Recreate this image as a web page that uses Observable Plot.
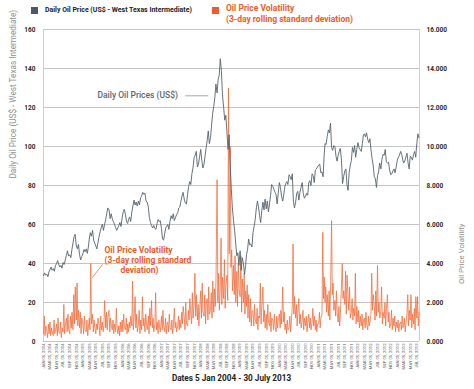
<!DOCTYPE html>
<html><head><meta charset="utf-8">
<script src="https://cdn.jsdelivr.net/npm/d3@7"></script>
<script src="https://cdn.jsdelivr.net/npm/@observablehq/plot@0.6"></script>
<style>
body{margin:0;background:#fff;font-family:Roboto,sans-serif;}
#wrap{position:relative;width:474px;height:389px;overflow:hidden;background:#fff;}
#wrap svg{position:absolute;left:0;top:0;}
.lg{position:absolute;white-space:nowrap;line-height:1;z-index:2;transform-origin:0 0;}
</style></head><body><div id="wrap">
<div class="lg" style="left:31px;top:7px;width:7px;height:7px;background:#4a5963"></div>
<div class="lg" style="left:45px;top:6px;font-size:8px;font-weight:700;color:#222;transform:scaleX(0.87)">Daily Oil Price (US$ - West Texas Intermediate)</div>
<div class="lg" style="left:212px;top:7px;width:7px;height:7px;background:#f15a29"></div>
<div class="lg" style="left:226px;top:4px;font-size:8.5px;font-weight:700;color:#f05a28">Oil Price Volatility</div>
<div class="lg" style="left:226px;top:15px;font-size:8.5px;font-weight:700;color:#f05a28">(3-day rolling standard deviation)</div>
</div>
<script>
// Daily oil price (US$), three readings per month (5th, 15th, 25th)
const price2004 = [33.8,35.2,34.0, 34.5,33.2,35.8, 36.9,38.2,36.5, 37.4,36.0,38.9, 40.0,41.5,39.6, 38.2,39.0,37.6, 40.5,39.5,41.8, 44.2,46.5,43.8, 44.5,43.0,47.2, 50.5,53.8,55.0, 49.0,47.5,49.8, 44.5,41.8,43.5];
const price2005 = [45.0,47.2,46.0, 47.5,45.2,48.5, 52.5,55.8,54.0, 57.0,52.0,50.5, 49.0,47.5,50.5, 54.0,56.5,58.5, 60.2,57.0,59.8, 62.5,65.8,68.5, 67.5,63.0,65.5, 63.0,61.5,60.2, 58.5,57.0,58.2, 59.5,61.0,59.0];
const price2006 = [63.5,66.5,67.8, 65.0,61.5,60.5, 62.5,63.8,61.5, 66.5,69.5,72.5, 70.0,71.5,69.5, 72.0,70.0,73.8, 74.5,76.5,75.5, 76.0,72.0,71.5, 69.0,63.5,61.0, 59.5,58.2,59.5, 58.0,57.5,60.5, 62.5,61.5,62.0];
const price2007 = [58.0,52.5,52.0, 55.5,58.5,59.0, 60.0,57.5,61.5, 64.5,63.0,65.5, 62.0,63.5,65.0, 66.0,68.5,69.0, 72.0,74.5,76.5, 73.0,71.0,70.5, 75.5,79.5,82.0, 80.5,86.0,89.0, 94.5,95.5,97.5, 89.5,91.0,94.5];
const price2008 = [98.5,93.0,89.0, 91.0,95.5,99.5, 103.0,108.0,101.5, 104.5,111.0,117.0, 120.5,125.0,132.0, 127.5,134.5,136.5, 145.0,139.0,126.5, 120.0,113.5,116.0, 107.0,98.5,106.0, 91.0,78.5,68.5, 62.0,57.0,50.5, 44.0,45.5,39.0];
const price2009 = [46.5,36.5,43.0, 40.0,34.5,39.0, 44.5,47.0,52.5, 49.5,50.0,48.5, 56.0,59.0,62.5, 68.5,72.0,69.0, 64.5,61.0,67.0, 71.5,67.5,73.0, 68.0,72.0,66.5, 70.5,75.0,80.5, 79.5,78.0,76.5, 75.5,70.5,76.0];
const price2010 = [81.5,79.0,74.5, 72.0,75.5,79.5, 81.0,82.0,80.5, 85.5,84.5,83.0, 86.0,72.0,68.5, 71.5,76.0,77.0, 72.5,76.5,79.0, 81.5,76.0,73.5, 74.5,76.0,75.0, 81.5,82.5,80.0, 86.0,85.0,81.5, 88.0,88.5,89.5];
const price2011 = [90.5,91.0,86.5, 87.0,84.5,95.5, 101.5,101.0,105.0, 108.5,107.0,112.0, 99.5,98.0,100.5, 100.0,95.0,92.5, 95.5,97.5,99.0, 93.0,81.0,84.5, 87.5,88.5,80.5, 77.5,86.5,90.0, 93.0,99.5,97.0, 100.5,94.5,98.5];
const price2012 = [102.0,99.5,98.5, 97.5,101.5,106.0, 106.5,105.0,107.0, 103.5,102.0,104.0, 98.5,94.0,90.5, 84.5,83.5,79.0, 85.0,87.0,91.5, 88.5,93.5,96.0, 95.5,98.5,92.0, 91.5,92.0,88.0, 85.5,86.0,87.5, 88.5,86.5,89.5];
const price2013 = [93.0,94.5,95.5, 97.5,96.0,93.0, 91.5,92.5,94.5, 96.5,91.5,88.5, 95.0,94.5,93.0, 96.0,97.5,94.5, 101.5,106.5,104.5];
const priceDays = [5, 15, 25];

// Oil price volatility (3-day rolling std dev), four readings per month (5th, 12th, 19th, 26th)
const vol2004 = [0.4,1.3,0.3,0.8, 0.5,0.2,0.9,0.4, 1.0,0.3,0.7,0.5, 0.3,1.1,0.4,0.6, 0.9,0.3,1.2,0.5, 0.4,1.0,0.2,0.7, 0.5,1.9,0.4,0.8, 1.2,0.5,1.4,0.6, 0.4,1.3,0.7,1.5, 0.6,2.4,0.9,2.8, 1.1,3.0,0.8,1.6, 0.7,1.5,0.4,1.2];
const vol2005 = [0.9,0.4,1.3,0.6, 0.5,1.1,0.3,0.8, 1.2,0.6,4.0,0.9, 1.4,0.5,1.1,0.7, 0.4,0.9,0.6,1.2, 0.8,0.3,1.3,0.6, 1.0,0.5,0.8,2.1, 0.7,1.5,0.6,1.3, 1.6,0.5,1.2,0.8, 0.6,1.1,0.4,0.9, 0.5,1.7,0.7,0.4, 0.8,0.3,1.0,0.5];
const vol2006 = [1.1,0.5,1.4,0.7, 0.6,1.2,0.4,0.9, 0.5,1.0,0.7,1.3, 0.8,3.1,0.6,1.2, 2.3,0.7,1.4,0.5, 0.9,1.6,0.4,1.1, 0.6,2.3,0.8,1.2, 0.5,1.4,0.9,0.6, 1.3,0.4,1.7,0.8, 2.1,0.7,1.2,0.5, 0.9,2.5,0.6,1.0, 0.4,1.1,0.7,0.5];
const vol2007 = [1.3,0.6,1.6,0.8, 0.5,1.2,0.4,0.9, 1.0,0.5,1.4,0.7, 0.6,1.1,0.4,0.8, 1.7,0.7,1.0,0.5, 0.8,1.3,0.6,1.1, 0.7,1.5,0.9,1.8, 1.2,0.6,2.0,0.9, 0.8,1.6,1.1,2.2, 1.4,0.9,2.5,1.2, 2.0,3.5,1.3,2.4, 1.1,1.9,0.8,1.6];
const vol2008 = [2.6,1.2,3.0,1.5, 1.3,2.4,0.9,2.0, 2.2,1.1,2.8,1.4, 1.6,2.5,1.2,3.1, 1.5,2.7,1.8,3.2, 8.3,2.0,3.5,1.6, 2.8,5.3,1.9,3.3, 2.2,4.2,1.7,2.9, 3.4,2.1,13.0,4.5, 10.0,3.8,4.7,2.6, 3.9,2.4,4.4,2.0, 3.6,1.8,4.0,2.7];
const vol2009 = [2.3,4.4,1.5,3.2, 2.0,3.5,1.4,2.6, 1.8,2.9,1.2,2.4, 1.0,2.2,0.8,1.6, 1.5,0.8,1.9,1.1, 0.9,1.7,0.6,1.3, 1.2,3.0,0.9,1.8, 2.8,1.0,1.6,0.7, 1.4,0.6,1.9,1.0, 0.8,1.5,0.5,1.2, 1.1,0.6,1.4,0.8, 0.5,1.3,0.7,1.1];
const vol2010 = [1.4,0.7,1.6,0.9, 2.8,1.0,1.5,0.6, 0.9,0.4,1.1,0.6, 0.7,1.3,0.5,1.0, 1.8,5.0,1.4,2.3, 1.2,1.9,0.8,1.5, 2.2,0.9,1.4,0.7, 1.1,1.6,0.6,1.2, 0.8,1.3,0.5,1.0, 1.4,0.7,1.2,0.6, 1.0,1.7,0.8,1.3, 0.6,1.1,0.5,0.9];
const vol2011 = [0.9,1.5,0.7,1.2, 1.4,5.6,2.2,3.3, 2.0,2.8,1.5,2.4, 1.3,2.6,1.1,2.9, 6.2,2.4,3.0,1.6, 2.1,1.3,2.6,1.5, 1.0,1.8,0.8,1.4, 2.9,4.0,2.2,2.6, 1.9,3.6,1.4,3.4, 2.3,1.6,2.8,1.2, 1.5,2.2,1.1,1.7, 1.3,3.5,0.9,1.8];
const vol2012 = [1.0,1.6,0.7,1.3, 0.8,1.4,0.6,1.1, 1.2,0.7,1.5,0.9, 0.6,1.3,0.8,1.0, 1.4,3.5,1.6,2.4, 1.8,1.1,2.6,1.3, 3.9,1.5,2.0,1.2, 1.6,2.8,0.9,1.5, 1.2,2.0,0.8,1.7, 2.4,1.0,1.5,0.7, 0.9,1.6,0.6,1.2, 0.8,1.3,0.5,1.0];
const vol2013 = [0.7,1.1,0.5,0.9, 1.0,0.6,1.3,0.7, 0.8,1.2,0.5,0.9, 1.5,2.4,0.8,1.6, 1.1,2.4,0.7,1.4, 0.9,1.7,0.6,2.3, 1.2,2.3,0.8,1.5];
const volDays = [5, 12, 19, 26];

const years = [2004,2005,2006,2007,2008,2009,2010,2011,2012,2013];
const priceYears = [price2004,price2005,price2006,price2007,price2008,price2009,price2010,price2011,price2012,price2013];
const volYears = [vol2004,vol2005,vol2006,vol2007,vol2008,vol2009,vol2010,vol2011,vol2012,vol2013];

// Axis ticks
const leftTicks = [0,20,40,60,80,100,120,140,160];
const rightTicks = [0,2,4,6,8,10,12,14,16];
const dateStart = "2004-01-05", dateEnd = "2013-07-30";
const xTickEvery = 2; // months

// Titles and annotations
const xTitle = "Dates 5 Jan 2004 - 30 July 2013";
const yLeftTitle = "Daily Oil Price (US$ - West Texas Intermediate)";
const yRightTitle = "Oil Price Volatility";
const priceNote = {text: "Daily Oil Prices (US$)", date: "2005-05-20", value: 126.5, lineFrom: "2007-08-14", lineTo: "2008-03-15", lineValue: 126};
const volNoteLines = [
  {text: "Oil Price Volatility", date: "2005-07-24", value: 47.0},
  {text: "(3-day rolling standard", date: "2005-07-24", value: 41.8},
  {text: "deviation)", date: "2005-12-20", value: 36.6}
];
const volLeader = [{x1: "2005-04-03", y1: 32.8, x2: "2005-07-06", y2: 39.5}];

const D = s => new Date(s + "T00:00:00Z");
const priceData = [], volData = [];
years.forEach((y, yi) => {
  priceYears[yi].forEach((v, i) => priceData.push({date: new Date(Date.UTC(y, Math.floor(i / 3), priceDays[i % 3])), v}));
  volYears[yi].forEach((v, i) => volData.push({date: new Date(Date.UTC(y, Math.floor(i / 4), volDays[i % 4])), v}));
});
const xTicks = d3.utcMonth.every(xTickEvery).range(D("2004-01-01"), D("2013-08-01")).map(d => new Date(Date.UTC(d.getUTCFullYear(), d.getUTCMonth(), 5)));
const fmt = d3.utcFormat("%b %d, %Y");

const chart = Plot.plot({
  width: 474, height: 389,
  marginLeft: 43, marginRight: 55, marginTop: 29, marginBottom: 48,
  style: {fontFamily: "Roboto, sans-serif", background: "transparent", overflow: "visible"},
  x: {type: "utc", domain: [D(dateStart), D(dateEnd)]},
  y: {domain: [0, 160]},
  marks: [
    Plot.gridY(leftTicks, {stroke: "#c4c4c4", strokeOpacity: 1, strokeWidth: 1}),
    Plot.ruleX([D(dateStart), D(dateEnd)], {stroke: "#cfcfcf", strokeWidth: 1}),
    Plot.axisY(leftTicks, {anchor: "left", tickSize: 0, tickPadding: 8, fontSize: 6.5, fontWeight: "bold", fill: "#2a2a2a", label: null}),
    Plot.axisY(rightTicks.map(v => v * 10), {anchor: "right", tickSize: 0, tickPadding: 7, fontSize: 6.5, fontWeight: "bold", fill: "#2a2a2a", tickFormat: d => (d / 10).toFixed(3), label: null}),
    Plot.axisX(xTicks, {tickRotate: -90, tickSize: 0, tickPadding: 2, fontSize: 4.2, fill: "#555", tickFormat: d => fmt(d).toUpperCase(), label: null}),
    Plot.line(volData, {x: "date", y: d => d.v * 10, stroke: "#f26b3a", strokeWidth: 0.9, strokeOpacity: 0.85}),
    Plot.line(priceData, {x: "date", y: "v", stroke: "#56636c", strokeWidth: 0.9}),
    Plot.text([priceNote], {x: d => D(d.date), y: "value", text: "text", textAnchor: "start", fontSize: 8.5, fontWeight: 500, fill: "#5b6770"}),
    Plot.link([priceNote], {x1: d => D(d.lineFrom), x2: d => D(d.lineTo), y1: "lineValue", y2: "lineValue", stroke: "#8a949a", strokeWidth: 0.8}),
    Plot.text(volNoteLines, {x: d => D(d.date), y: "value", text: "text", textAnchor: "start", fontSize: 8.5, fontWeight: "bold", fill: "#f05a28"}),
    Plot.link(volLeader, {x1: d => D(d.x1), x2: d => D(d.x2), y1: "y1", y2: "y2", stroke: "#f05a28", strokeWidth: 0.7}),
    Plot.text([yLeftTitle], {frameAnchor: "left", dx: -30, dy: -7, rotate: -90, fontSize: 8.2, fill: "#8f8f8f"}),
    Plot.text([yRightTitle], {frameAnchor: "right", dx: 42, dy: 38, rotate: -90, fontSize: 7.8, fill: "#8f8f8f"}),
    Plot.text([xTitle], {frameAnchor: "bottom", dy: 39, fontSize: 8.2, fontWeight: "bold", fill: "#222"})
  ]
});
document.getElementById("wrap").appendChild(chart);
</script>
</body></html>
